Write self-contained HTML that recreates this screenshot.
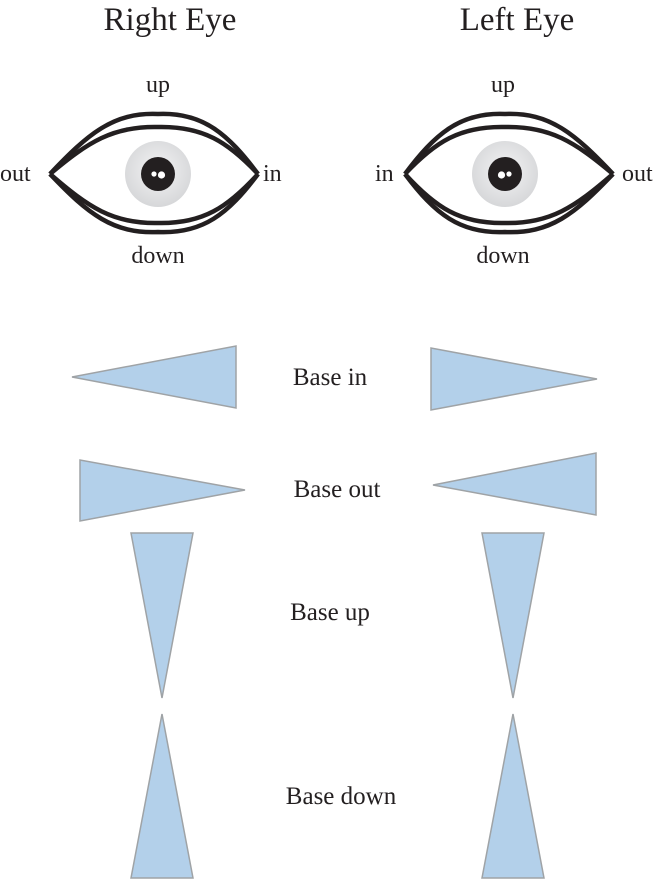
<!DOCTYPE html>
<html><head><style>
html,body{margin:0;padding:0;background:#fff;}
svg{display:block;}
text{font-family:"Liberation Serif",serif;fill:#231f20;}
</style></head><body>
<svg width="661" height="880" viewBox="0 0 661 880" xmlns="http://www.w3.org/2000/svg">
<defs>
<radialGradient id="ir" cx="0.5" cy="0.45" r="0.55">
<stop offset="0" stop-color="#f4f4f5"/><stop offset="1" stop-color="#d6d7d9"/>
</radialGradient>
<g id="eye">
<path d="M-108,0 C-70,-40 -45,-62 0,-60 C45,-62 70,-40 100,0" fill="none" stroke="#231f20" stroke-width="4.5"/>
<path d="M-108,0 C-70,-32 -45,-48 0,-47 C45,-48 70,-32 100,0" fill="none" stroke="#231f20" stroke-width="4.5"/>
<path d="M-108,0 C-70,40 -45,60 0,58 C45,60 70,40 100,0" fill="none" stroke="#231f20" stroke-width="4.5"/>
<path d="M-108,0 C-70,33 -45,50 0,49 C45,50 70,33 100,0" fill="none" stroke="#231f20" stroke-width="4.5"/>
<circle cx="0" cy="0" r="33" fill="url(#ir)"/>
<circle cx="0" cy="0" r="17" fill="#231f20"/>
<circle cx="-4" cy="0" r="2.6" fill="#fff"/>
<circle cx="3.5" cy="1" r="3.6" fill="#fff"/>
</g>
</defs>
<text x="170" y="30" font-size="33" text-anchor="middle">Right Eye</text>
<text x="517" y="30" font-size="33" text-anchor="middle">Left Eye</text>

<use href="#eye" transform="translate(158,174)"/>
<use href="#eye" transform="translate(505,174) scale(-1,1)"/>

<g font-size="24">
<text x="158" y="92" text-anchor="middle">up</text>
<text x="158" y="263" text-anchor="middle">down</text>
<text x="0" y="181">out</text>
<text x="263" y="181">in</text>
<text x="503" y="92" text-anchor="middle">up</text>
<text x="503" y="263" text-anchor="middle">down</text>
<text x="375" y="181">in</text>
<text x="622" y="181">out</text>
</g>

<g fill="#b3d0ea" stroke="#9fa3a6" stroke-width="1.5">
<polygon points="72,377 236,346 236,408"/>
<polygon points="431,348 431,410 597,379"/>
<polygon points="80,460 80,521 245,490"/>
<polygon points="433,485 596,453 596,515"/>
<polygon points="131,533 193,533 162,698"/>
<polygon points="482,533 544,533 513,698"/>
<polygon points="162,714 131,878 193,878"/>
<polygon points="513,714 482,878 544,878"/>
</g>

<g font-size="25" text-anchor="middle">
<text x="330" y="385">Base in</text>
<text x="337" y="497">Base out</text>
<text x="330" y="620">Base up</text>
<text x="341" y="804">Base down</text>
</g>
</svg>
</body></html>
